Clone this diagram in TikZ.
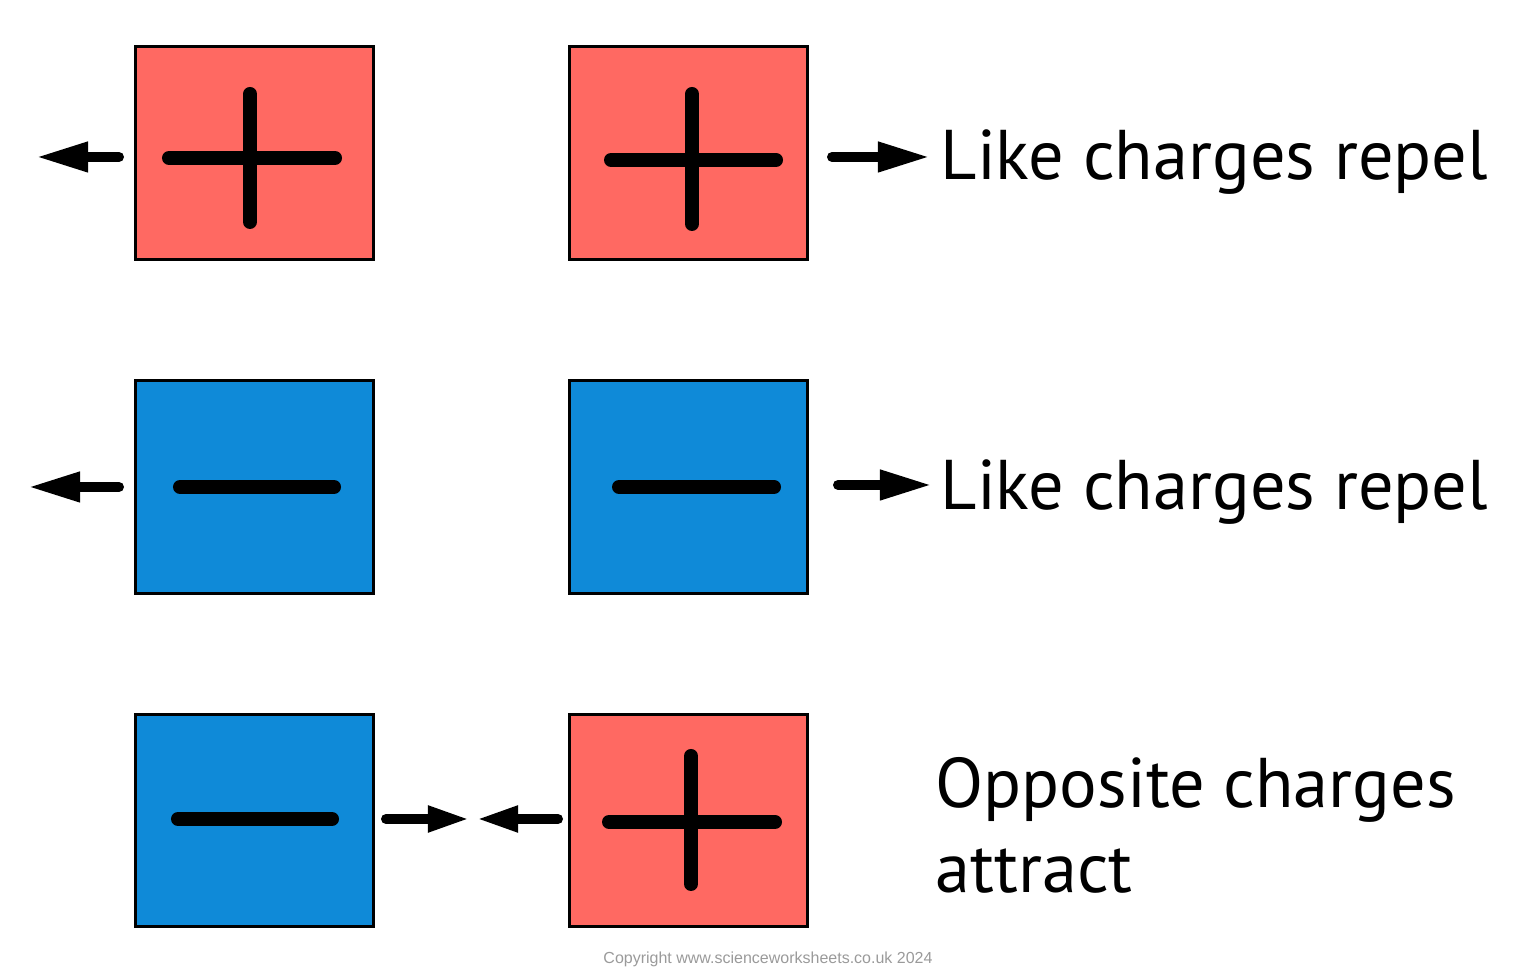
\documentclass[tikz,border=0pt]{standalone}
\usepackage{fontspec}
\setmainfont{PT Sans}
\newfontfamily\copyfont{Liberation Sans}
\usetikzlibrary{arrows.meta}
\definecolor{posred}{HTML}{FF6962}
\definecolor{negblue}{HTML}{0F8AD8}
\definecolor{copygray}{HTML}{9A9A9A}
\tikzset{
  chargebox/.style={draw=black, line width=0.03cm, minimum width=2.37cm, minimum height=2.12cm, inner sep=0},
  posbox/.style={chargebox, fill=posred},
  negbox/.style={chargebox, fill=negblue},
  sign/.style={line width=0.14cm, line cap=round},
  arr/.style={line width=0.1cm, line cap=round, -{Triangle[length=0.52cm,width=0.28cm]}},
  sarr/.style={line width=0.1cm, line cap=round, -{Triangle[length=0.42cm,width=0.24cm]}},
  label/.style={anchor=base west, inner sep=0, font=\fontsize{20}{24}\selectfont},
}
\begin{document}
\begin{tikzpicture}[x=0.01cm,y=-0.01cm]
\useasboundingbox (0,0) rectangle (1536,968);
% row 1
\node[posbox] (p1) at (254.5,153) {};
\node[posbox] (p2) at (688.5,153) {};
\draw[sign] (250,94) -- (250,222) (169,158) -- (335,158);
\draw[sign] (692,94) -- (692,224) (611,160) -- (776,160);
\coordinate (a1s) at (119,157); \coordinate (a1t) at (36,157);
\coordinate (a2s) at (832,157); \coordinate (a2t) at (930,157);
\draw[arr] (a1s) -- (a1t);
\draw[arr] (a2s) -- (a2t);
\node[label] (t1) at (940,180) {Like charges repel};
% row 2
\node[negbox] (n1) at (254.5,487) {};
\node[negbox] (n2) at (688.5,487) {};
\draw[sign] (180,487) -- (334,487);
\draw[sign] (619,487) -- (774,487);
\coordinate (b1s) at (119,487); \coordinate (b1t) at (28,487);
\coordinate (b2s) at (838,485); \coordinate (b2t) at (932,485);
\draw[arr] (b1s) -- (b1t);
\draw[arr] (b2s) -- (b2t);
\node[label] (t2) at (940,510) {Like charges repel};
% row 3
\node[negbox] (n3) at (254.5,820.5) {};
\node[posbox] (p3) at (688.5,820.5) {};
\draw[sign] (178,819) -- (332,819);
\draw[sign] (691,756) -- (691,884) (609,822) -- (775,822);
\coordinate (c1s) at (386,819); \coordinate (c1t) at (470,819);
\coordinate (c2s) at (558,819); \coordinate (c2t) at (476,819);
\draw[sarr] (c1s) -- (c1t);
\draw[sarr] (c2s) -- (c2t);
\node[label] (t3) at (935,808) {Opposite charges};
\node[label] (t4) at (935,893) {attract};
% copyright
\node[anchor=base, inner sep=0, text=copygray, font=\copyfont\fontsize{4.55}{5}\selectfont] (cp) at (768,964) {Copyright www.scienceworksheets.co.uk 2024};
\end{tikzpicture}
\end{document}
